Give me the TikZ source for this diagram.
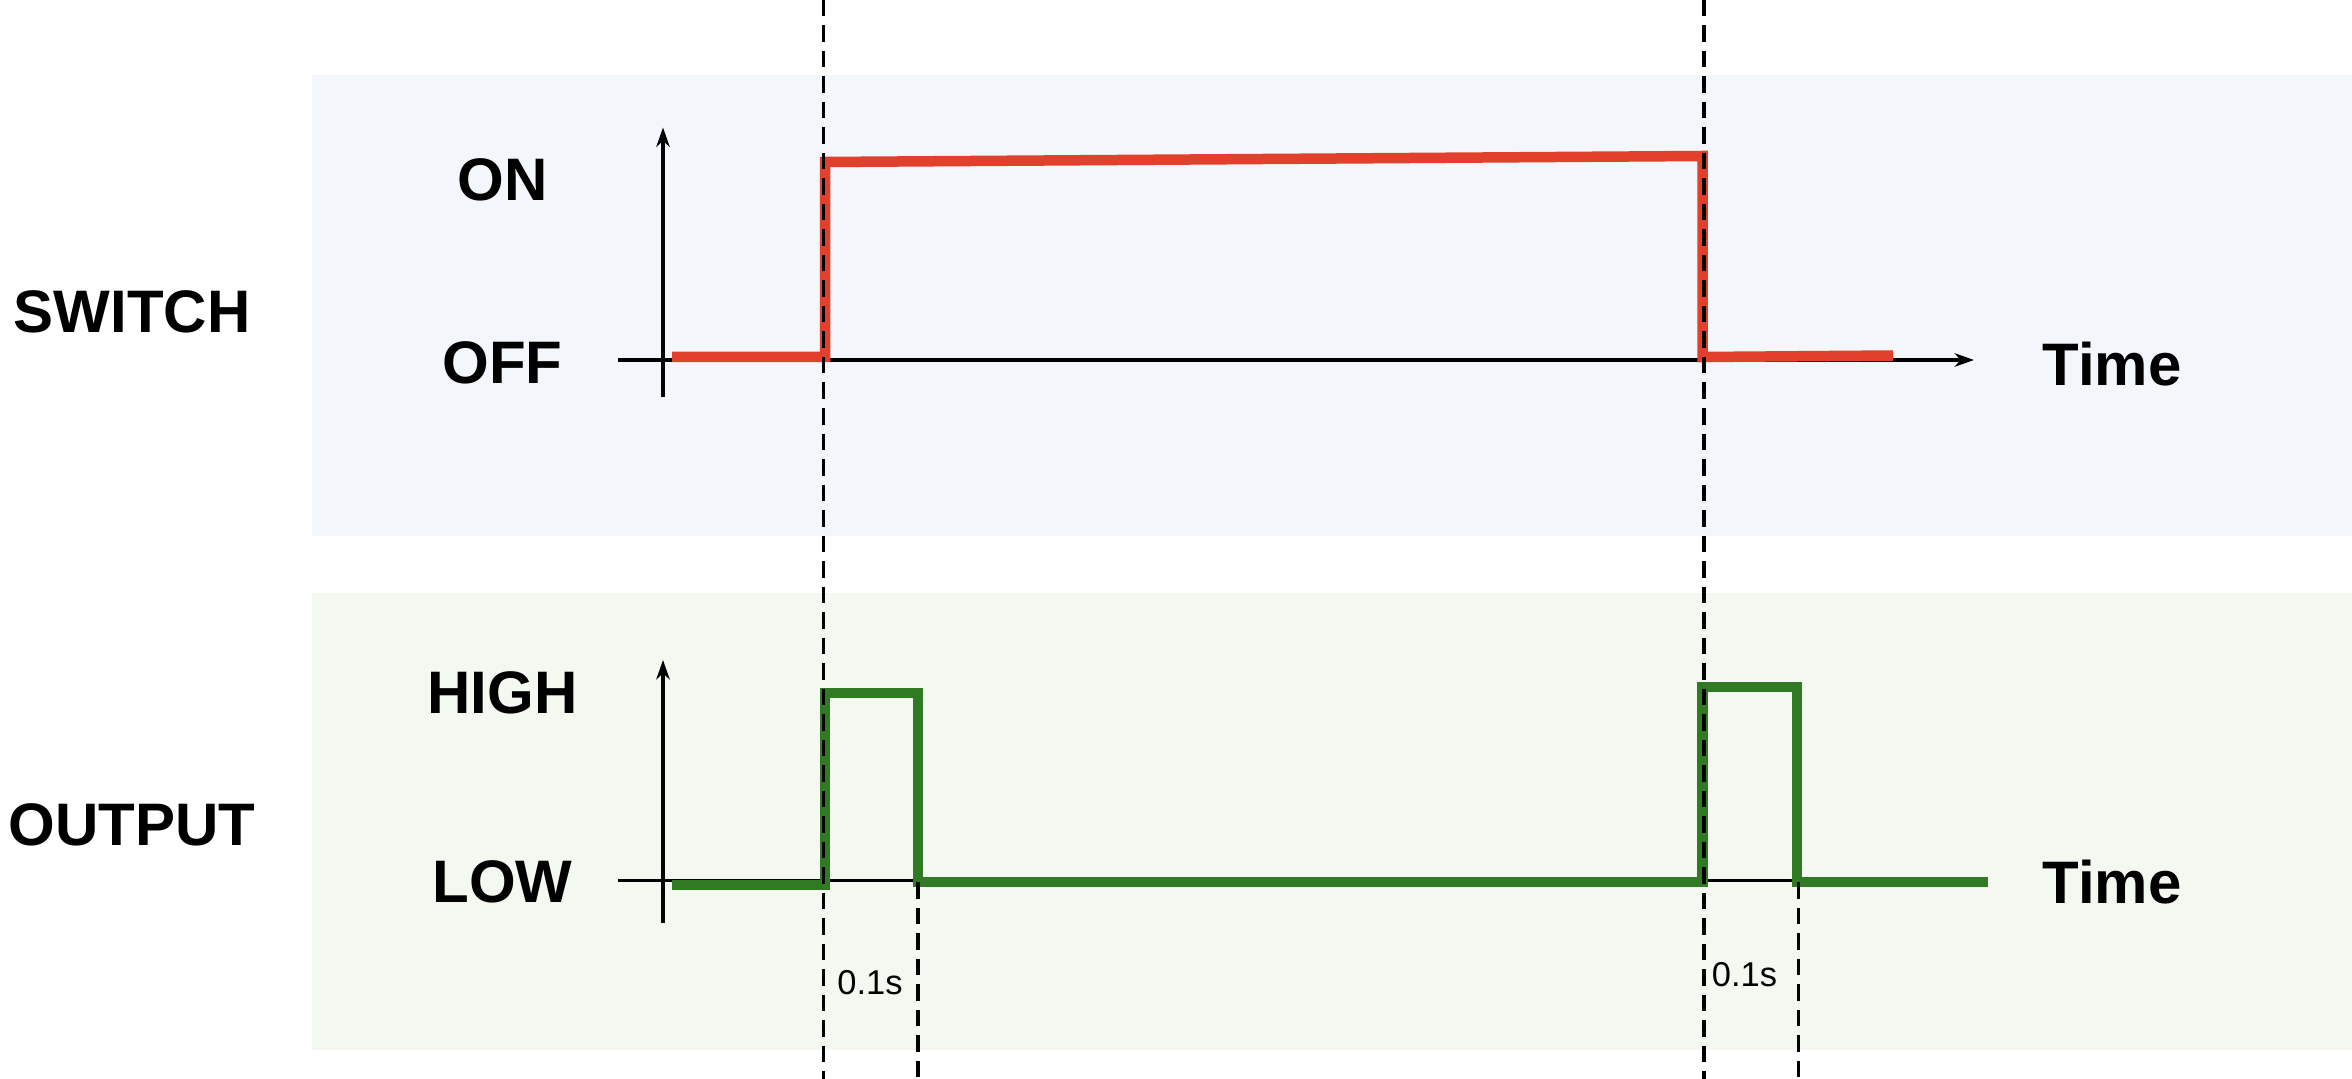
\documentclass[tikz,border=0pt]{standalone}
\usepackage{fontspec}
\setmainfont{Liberation Sans}
\usetikzlibrary{arrows.meta}
\definecolor{bandblue}{HTML}{F3F7FC}
\definecolor{bandgreen}{HTML}{F3F8F1}
\definecolor{sigred}{HTML}{E0402C}
\definecolor{siggreen}{HTML}{2F7A22}
\tikzset{
  lbl/.style={font=\fontsize{40}{46}\selectfont\bfseries, inner sep=0pt},
  small/.style={font=\fontsize{23}{26}\selectfont, inner sep=0pt},
  axis/.style={line width=2.4pt, -{Stealth[length=13pt,width=9pt]}},
  axisplain/.style={line width=2.4pt},
  guide/.style={line width=2.2pt, dash pattern=on 11pt off 6pt},
  sig/.style={line width=7pt, line join=miter},
}
\begin{document}
\begin{tikzpicture}[x=1pt,y=-1pt]
\useasboundingbox (0,0) rectangle (1568,719);
\fill[bandblue] (208,50) rectangle (1568,357);
\fill[bandgreen] (208,395) rectangle (1568,700);
\node[lbl] (sw) at (88,208) {SWITCH};
\node[lbl] (out) at (88,550) {OUTPUT};
\node[lbl] (on) at (335,120) {ON};
\node[lbl] (off) at (335,242) {OFF};
\node[lbl] (hi) at (335,462) {HIGH};
\node[lbl] (lo) at (335,588) {LOW};
\node[lbl] (t1) at (1408,243) {Time};
\node[lbl] (t2) at (1408,588) {Time};
\coordinate (a1) at (442,265); \coordinate (a2) at (442,85);
\coordinate (h1) at (412,240); \coordinate (h2) at (1316,240);
\coordinate (b1) at (442,615); \coordinate (b2) at (442,440);
\coordinate (g1) at (412,587); \coordinate (g2) at (1325,587);
\draw[axis] (a1) -- (a2);
\draw[axis] (h1) -- (h2);
\draw[axis] (b1) -- (b2);
\draw[axisplain] (g1) -- (g2);
\draw[sig, sigred] (448,238) -- (550,238) -- (550,108) -- (1135,104) -- (1135,238) -- (1262,237);
\draw[sig, siggreen] (448,590) -- (550,590) -- (550,462) -- (612,462) -- (612,588) -- (1135,588) -- (1135,458) -- (1198,458) -- (1198,588) -- (1325,588);
\coordinate (d1t) at (549,0); \coordinate (d1b) at (549,719);
\coordinate (d2t) at (1136,0); \coordinate (d2b) at (1136,719);
\coordinate (d3t) at (612,588); \coordinate (d3b) at (612,719);
\coordinate (d4t) at (1199,588); \coordinate (d4b) at (1199,719);
\draw[guide] (d1t) -- (d1b);
\draw[guide] (d2t) -- (d2b);
\draw[guide] (d3t) -- (d3b);
\draw[guide] (d4t) -- (d4b);
\node[small] (s1) at (580,655) {0.1s};
\node[small] (s2) at (1163,650) {0.1s};
\end{tikzpicture}
\end{document}
